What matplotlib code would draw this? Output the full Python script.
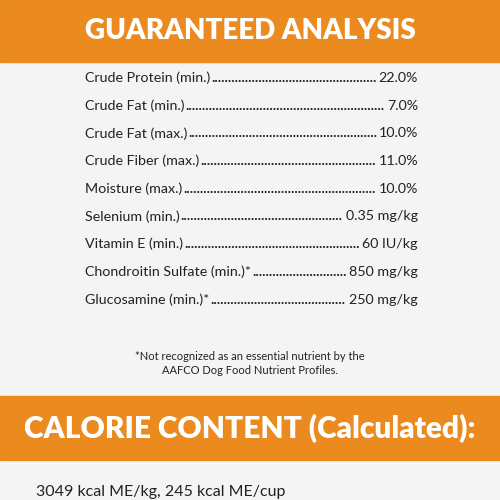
import matplotlib
matplotlib.use("Agg")
import matplotlib.pyplot as plt
from matplotlib.patches import Rectangle

title = "GUARANTEED ANALYSIS"
labels = ["Crude Protein (min.)", "Crude Fat (min.)", "Crude Fat (max.)", "Crude Fiber (max.)",
          "Moisture (max.)", "Selenium (min.)", "Vitamin E (min.)",
          "Chondroitin Sulfate (min.)*", "Glucosamine (min.)*"]
values = ["22.0%", "7.0%", "10.0%", "11.0%", "10.0%", "0.35 mg/kg", "60 IU/kg", "850 mg/kg", "250 mg/kg"]
footnote = ["*Not recognized as an essential nutrient by the", "AAFCO Dog Food Nutrient Profiles."]
cal_title = "CALORIE CONTENT (Calculated):"
cal_text = "3049 kcal ME/kg, 245 kcal ME/cup"

orange = "#EA8A1F"
fig = plt.figure(figsize=(5, 5), dpi=100)
fig.patch.set_facecolor("#F4F4F4")
ax = fig.add_axes([0, 0, 1, 1])
ax.set_xlim(0, 500); ax.set_ylim(500, 0); ax.axis("off")
ax.add_patch(Rectangle((0, 0), 500, 62, color=orange))
ax.add_patch(Rectangle((0, 396), 500, 64, color=orange))
ax.text(250, 31, title, color="white", fontsize=20, fontweight="heavy", family="Lato", ha="center", va="center")
ax.text(250, 428, cal_title, color="white", fontsize=21.5, fontweight="heavy", family="Lato", ha="center", va="center")
ax.text(36, 492, cal_text, color="#222222", fontsize=11.5, family="Lato", ha="left", va="center")
for i, f in enumerate(footnote):
    ax.text(250, 357 + 14 * i, f, color="#222222", fontsize=8, family="Lato", ha="center", va="center")

fig.canvas.draw()
r = fig.canvas.get_renderer()
for i, (lab, val) in enumerate(zip(labels, values)):
    y = 78 + 27.7 * i
    t1 = ax.text(85, y, lab, fontsize=10.3, family="Lato", color="#222222", ha="left", va="center")
    t2 = ax.text(418, y, val, fontsize=10.3, family="Lato", color="#222222", ha="right", va="center")
    e1 = t1.get_window_extent(r)
    x0 = e1.x1
    x1 = t2.get_window_extent(r).x0
    d = ax.text(85 + (x0 - e1.x0) + 1, y, "", fontsize=10.3, fontweight="bold", family="Lato",
                color="#222222", ha="left", va="center")
    n = 0
    while True:
        d.set_text("." * (n + 1))
        if d.get_window_extent(r).width > (x1 - x0) - 2:
            break
        n += 1
    d.set_text("." * n)
fig.savefig("out.png", dpi=100, facecolor=fig.get_facecolor())
